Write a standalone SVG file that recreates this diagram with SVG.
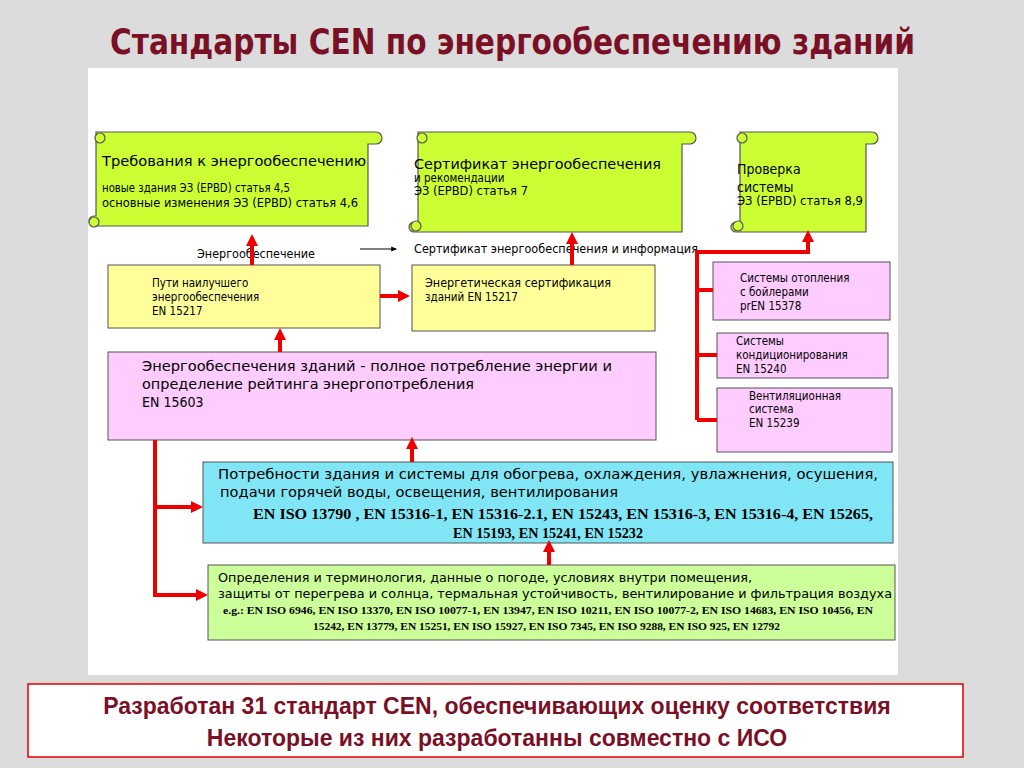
<svg xmlns="http://www.w3.org/2000/svg" width="1024" height="768" viewBox="0 0 1024 768">
<style>
text{font-family:"DejaVu Sans Condensed","Liberation Sans",sans-serif;fill:#000}
.t{font-size:13px}.s{font-size:11.5px}.b{font-size:14px}
.r{font-family:"Liberation Serif",serif;font-weight:bold;font-size:15px}
.r2{font-family:"Liberation Serif",serif;font-weight:bold;font-size:11px}
.scroll{fill:#ccff33;stroke:#555;stroke-width:1.2}
.red{stroke:#ee0000;stroke-width:4;fill:none}
</style>
<defs>
<marker id="ah" viewBox="0 0 10 10" refX="5" refY="5" markerWidth="3" markerHeight="3" orient="auto"><path d="M0,0L10,5L0,10z" fill="#ee0000"/></marker>
<marker id="bk" viewBox="0 0 10 10" refX="8" refY="5" markerWidth="6" markerHeight="6" orient="auto"><path d="M0,1L10,5L0,9z" fill="#000"/></marker>
</defs>
<rect width="1024" height="768" fill="#dcdcdc"/>
<rect x="88" y="68" width="810" height="607" fill="#fff"/>
<text x="110" y="54" textLength="805" lengthAdjust="spacingAndGlyphs" style="font-family:'DejaVu Sans Condensed','Liberation Sans',sans-serif;font-weight:bold;font-size:35px;fill:#7a1025">Стандарты CEN по энергообеспечению зданий</text>

<g id="scroll1"><path class="scroll" d="M96,132H376a6,6 0 0 1 0,12H368V226H94a5,5 0 0 1 0,-10H96z"/><circle cx="100" cy="138" r="5" class="scroll"/><circle cx="94" cy="222" r="5" class="scroll"/>
<text x="102" y="166" class="b" textLength="264" lengthAdjust="spacingAndGlyphs">Требования к энергообеспечению</text><text x="102" y="192" class="s" textLength="188" lengthAdjust="spacingAndGlyphs">новые здания ЭЗ (EPBD) статья 4,5</text><text x="102" y="207" class="s" textLength="256" lengthAdjust="spacingAndGlyphs">основные изменения ЭЗ (EPBD) статья 4,6</text></g>
<g id="scroll2"><path class="scroll" d="M418,132H690a6,6 0 0 1 0,12H682V232H414a5,5 0 0 1 0,-10H418z"/><circle cx="422" cy="138" r="5" class="scroll"/><circle cx="416" cy="226" r="5" class="scroll"/>
<text x="414" y="169" class="b" textLength="247" lengthAdjust="spacingAndGlyphs">Сертификат энергообеспечения</text><text x="414" y="182" class="s">и рекомендации</text><text x="414" y="195" class="s" textLength="114" lengthAdjust="spacingAndGlyphs">ЭЗ (EPBD) статья 7</text></g>
<g id="scroll3"><path class="scroll" d="M740,132H872a6,6 0 0 1 0,12H866V232H736a5,5 0 0 1 0,-10H740z"/><circle cx="742" cy="138" r="5" class="scroll"/><circle cx="738" cy="226" r="5" class="scroll"/>
<text x="737" y="174" class="b">Проверка</text><text x="737" y="192" class="b">системы</text><text x="737" y="205" class="s" textLength="126" lengthAdjust="spacingAndGlyphs">ЭЗ (EPBD) статья 8,9</text></g>

<g id="labels"><text x="197" y="258" class="s" textLength="118" lengthAdjust="spacingAndGlyphs">Энергообеспечение</text><text x="414" y="253" class="s" textLength="284" lengthAdjust="spacingAndGlyphs">Сертификат энергообеспечения и информация</text></g>

<g id="y1"><rect x="108" y="265" width="272" height="63" fill="#ffff99" stroke="#555"/><text x="152" y="287" class="s">Пути наилучшего</text><text x="152" y="301" class="s">энергообеспечения</text><text x="152" y="315" class="s">EN 15217</text></g>
<g id="y2"><rect x="412" y="265" width="243" height="66" fill="#ffff99" stroke="#555"/><text x="425" y="287" class="s" textLength="186" lengthAdjust="spacingAndGlyphs">Энергетическая сертификация</text><text x="425" y="301" class="s">зданий EN 15217</text></g>
<g id="p1"><rect x="713" y="262" width="177" height="58" fill="#ffccff" stroke="#555"/><text x="740" y="282" class="s">Системы отопления</text><text x="740" y="296" class="s">с бойлерами</text><text x="740" y="310" class="s">prEN 15378</text></g>
<g id="p2"><rect x="717" y="333" width="171" height="45" fill="#ffccff" stroke="#555"/><text x="736" y="345" class="s">Системы</text><text x="736" y="359" class="s">кондиционирования</text><text x="736" y="373" class="s">EN 15240</text></g>
<g id="p3"><rect x="717" y="388" width="175" height="64" fill="#ffccff" stroke="#555"/><text x="749" y="400" class="s">Вентиляционная</text><text x="749" y="413" class="s">система</text><text x="749" y="427" class="s">EN 15239</text></g>
<g id="pbig"><rect x="108" y="352" width="548" height="88" fill="#ffccff" stroke="#555"/><text x="142" y="371" class="b" textLength="470" lengthAdjust="spacingAndGlyphs">Энергообеспечения зданий - полное потребление энергии и</text><text x="142" y="389" class="b" textLength="332" lengthAdjust="spacingAndGlyphs">определение рейтинга энергопотребления</text><text x="142" y="407" class="b">EN 15603</text></g>
<g id="blue"><rect x="203" y="462" width="690" height="81" fill="#80e6f5" stroke="#555"/><text x="218" y="479" class="b" textLength="660" lengthAdjust="spacingAndGlyphs">Потребности здания и системы для обогрева, охлаждения, увлажнения, осушения,</text><text x="220" y="497" class="b" textLength="398" lengthAdjust="spacingAndGlyphs">подачи горячей воды, освещения, вентилирования</text><text x="253" y="519" class="r" textLength="620" lengthAdjust="spacingAndGlyphs">EN ISO 13790 , EN 15316-1, EN 15316-2.1, EN 15243, EN 15316-3, EN 15316-4, EN 15265,</text><text x="453" y="538" class="r" textLength="190" lengthAdjust="spacingAndGlyphs">EN 15193, EN 15241, EN 15232</text></g>
<g id="green"><rect x="208" y="565" width="687" height="75" fill="#ccff99" stroke="#555"/><text x="218" y="582" class="t" textLength="534" lengthAdjust="spacingAndGlyphs">Определения и терминология, данные о погоде, условиях внутри помещения,</text><text x="218" y="598" class="t" textLength="674" lengthAdjust="spacingAndGlyphs">защиты от перегрева и солнца, термальная устойчивость, вентилирование и фильтрация воздуха</text><text x="223" y="614" class="r2" textLength="650" lengthAdjust="spacingAndGlyphs">e.g.: EN ISO 6946, EN ISO 13370, EN ISO 10077-1, EN 13947, EN ISO 10211, EN ISO 10077-2, EN ISO 14683, EN ISO 10456, EN</text><text x="313" y="630" class="r2" textLength="467" lengthAdjust="spacingAndGlyphs">15242, EN 13779, EN 15251, EN ISO 15927, EN ISO 7345, EN ISO 9288, EN ISO 925, EN 12792</text></g>

<g id="connectors">
<path class="red" marker-end="url(#ah)" d="M252,265V240"/>
<path class="red" marker-end="url(#ah)" d="M572,265V238"/>
<path class="red" marker-end="url(#ah)" d="M697,420V252H808V236"/>
<path class="red" d="M697,290H713M697,355H717M697,420H717"/>
<path class="red" marker-end="url(#ah)" d="M380,296H404"/>
<path class="red" marker-end="url(#ah)" d="M280,352V334"/>
<path class="red" marker-end="url(#ah)" d="M412,462V443"/>
<path class="red" marker-end="url(#ah)" d="M549,565V546"/>
<path class="red" marker-end="url(#ah)" d="M155,440V595H202"/>
<path class="red" marker-end="url(#ah)" d="M155,507H197"/>
<path stroke="#000" stroke-width="1" marker-end="url(#bk)" d="M360,249H396"/>
</g>

<g id="footer"><rect x="28" y="684" width="935" height="73" fill="#fff" stroke="#e00000" stroke-width="1.5"/>
<text x="497" y="714" text-anchor="middle" style="font-family:'Liberation Sans',sans-serif;font-weight:bold;font-size:23px;fill:#7a1025">Разработан 31 стандарт CEN, обеспечивающих оценку соответствия</text>
<text x="497" y="746" text-anchor="middle" style="font-family:'Liberation Sans',sans-serif;font-weight:bold;font-size:23px;fill:#7a1025">Некоторые из них разработанны совместно с ИСО</text></g>
</svg>
